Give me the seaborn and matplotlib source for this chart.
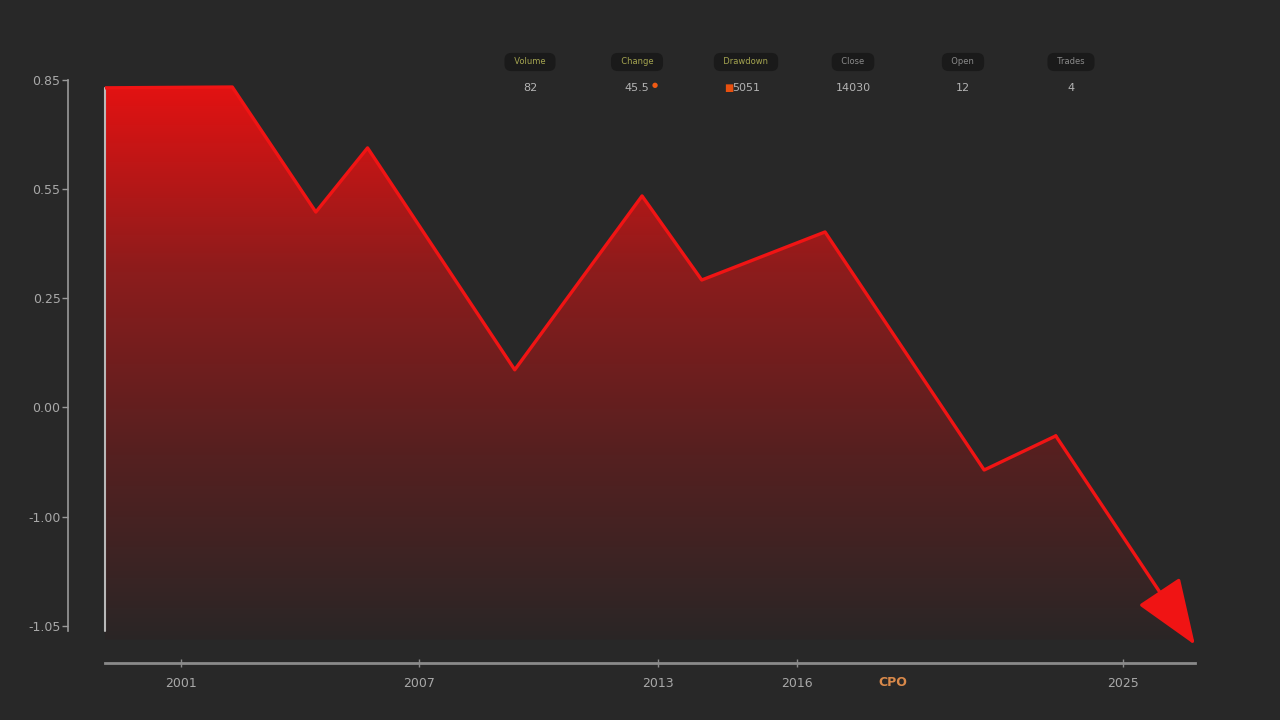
import numpy as np
import pandas as pd
import seaborn as sns
import matplotlib.pyplot as plt
from matplotlib.colors import LinearSegmentedColormap

# --- datos ---
years = [1999.1, 2002.3, 2004.4, 2005.7, 2009.4, 2012.6, 2014.1, 2017.2, 2021.2, 2023.0, 2026.5]
values = [0.971, 0.974, 0.516, 0.751, -0.062, 0.575, 0.267, 0.443, -0.429, -0.304, -1.070]

x_ticks = [2001, 2007, 2013, 2016.5, 2024.7]
x_labels = ['2001', '2007', '2013', '2016', '2025']
y_ticks = [1.0, 0.6, 0.2, -0.2, -0.6, -1.0]
y_labels = ['0.85', '0.55', '0.25', '0.00', '-1.00', '-1.05']

stat_names = ['Volume', 'Change', 'Drawdown', 'Close', 'Open', 'Trades']
stat_values = ['82', '45.5', '5051', '14030', '12', '4']

df = pd.DataFrame({'year': years, 'value': values})

BG = '#282828'
RED = '#f01414'
TXT = '#a8a8a8'

sns.set_style('dark')
plt.rcParams['font.family'] = ['DejaVu Sans']

fig = plt.figure(figsize=(12.8, 7.2), dpi=100)
fig.set_facecolor(BG)
ax = fig.add_axes([105 / 1280, (720 - 663) / 720, 1090 / 1280, 588 / 720])
ax.set_facecolor(BG)

x0, x1 = years[0], years[-1]
ax.set_xlim(x0, x1)
ax.set_ylim(-1.136, 1.018)

# relleno con degradado vertical
fill_bottom = -1.05
poly = ax.fill_between(years, values, fill_bottom, color='none', lw=0)
cmap = LinearSegmentedColormap.from_list('rojo', ['#2a2626', '#552020', '#8c1c1c', '#e21212'])
grad = np.linspace(0, 1, 256).reshape(-1, 1)
img = ax.imshow(grad, cmap=cmap, aspect='auto', origin='lower',
                extent=[x0, x1, fill_bottom, max(values)], zorder=1)
img.set_clip_path(poly.get_paths()[0], transform=ax.transData)

# línea principal
sns.lineplot(data=df.iloc[:-1], x='year', y='value', color=RED, linewidth=2.4,
             ax=ax, zorder=3, legend=False)
ax.annotate('', xy=(years[-1], values[-1]), xytext=(years[-2], values[-2]),
            arrowprops=dict(arrowstyle='-|>,head_length=1.1,head_width=0.42',
                            mutation_scale=38, color=RED, lw=2.4, shrinkA=0, shrinkB=0),
            zorder=4, annotation_clip=False)

# línea vertical en el borde izquierdo
ax.plot([x0, x0], [-1.02, values[0]], color='#b8b8b8', lw=1.5, zorder=2, clip_on=False)

# ejes
for s in ['top', 'right']:
    ax.spines[s].set_visible(False)
ax.spines['left'].set_position(('outward', 27))
ax.spines['left'].set_bounds(-1.02, 1.0)
ax.spines['left'].set_color('#9a9a9a')
ax.spines['left'].set_linewidth(1.2)
ax.spines['bottom'].set_color('#8a8a8a')
ax.spines['bottom'].set_linewidth(2)

ax.set_yticks(y_ticks)
ax.set_yticklabels(y_labels)
ax.set_xticks(x_ticks)
ax.set_xticklabels(x_labels)
ax.tick_params(axis='y', colors='#9a9a9a', labelcolor=TXT, length=4, width=1,
               labelsize=9, pad=1, left=True)
ax.tick_params(axis='x', colors='#8a8a8a', labelcolor=TXT, length=6, width=1,
               labelsize=9, pad=7, bottom=True, direction='inout')
ax.set_xlabel('')
ax.set_ylabel('')
ax.grid(False)

fig.text(893 / 1280, 1 - 683 / 720, 'CPO', color='#d9894a', fontsize=9,
         fontweight='bold', ha='center', va='center')

# indicadores superiores
pill_x = [530, 637, 746, 853, 963, 1071]
pill_colors = ['#a4a450', '#a4a450', '#a4a450', '#8a8a8a', '#8a8a8a', '#8a8a8a']
for px, name, val, pc in zip(pill_x, stat_names, stat_values, pill_colors):
    fig.text(px / 1280, 1 - 62 / 720, f'  {name}  ', color=pc, fontsize=6, ha='center',
             va='center',
             bbox=dict(boxstyle='round,pad=0.55,rounding_size=0.8', fc='#1a1a1a', ec='none'))
    fig.text(px / 1280, 1 - 88 / 720, val, color='#b4b4b4', fontsize=8,
             ha='center', va='center')
fig.text(655 / 1280, 1 - 85 / 720, '●', color='#f05a14', fontsize=5, ha='center', va='center')
fig.text(729 / 1280, 1 - 88 / 720, '■', color='#e8500f', fontsize=7, ha='center', va='center')

fig.savefig('out.png', dpi=100, facecolor=BG)
